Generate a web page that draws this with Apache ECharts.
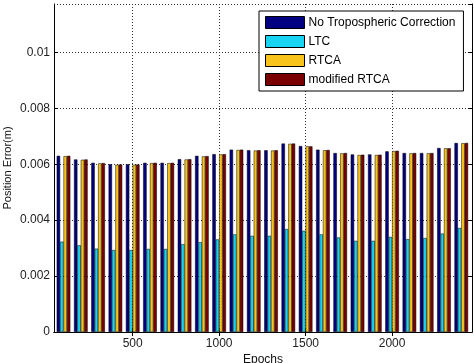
<!DOCTYPE html>
<html>
<head>
<meta charset="utf-8">
<script src="https://cdn.jsdelivr.net/npm/echarts@6/dist/echarts.min.js"></script>
<style>
html,body{margin:0;padding:0;background:#fff;}
#chart{width:474px;height:363px;}
</style>
</head>
<body>
<div id="chart"></div>
<script>
var epochs = [100,200,300,400,500,600,700,800,900,1000,1100,1200,1300,1400,1500,1600,1700,1800,1900,2000,2100,2200,2300,2400];
var xTicks = [500,1000,1500,2000];
var seriesNames = ['No Tropospheric Correction','LTC','RTCA','modified RTCA'];
var noCorrection = [0.00630,0.00617,0.00605,0.00600,0.00600,0.00605,0.00605,0.00618,0.00630,0.00636,0.00652,0.00650,0.00650,0.00674,0.00665,0.00652,0.00640,0.00635,0.00635,0.00646,0.00640,0.00640,0.00658,0.00676];
var ltc = [0.00323,0.00310,0.00298,0.00293,0.00293,0.00297,0.00297,0.00314,0.00321,0.00331,0.00349,0.00344,0.00344,0.00368,0.00362,0.00349,0.00338,0.00326,0.00326,0.00340,0.00332,0.00336,0.00352,0.00372];
var rtca = [0.00629,0.00616,0.00603,0.00598,0.00598,0.00604,0.00604,0.00617,0.00628,0.00635,0.00651,0.00649,0.00649,0.00673,0.00664,0.00650,0.00639,0.00633,0.00633,0.00647,0.00639,0.00639,0.00657,0.00675];
var modifiedRtca = [0.00630,0.00617,0.00604,0.00599,0.00599,0.00605,0.00605,0.00618,0.00629,0.00636,0.00652,0.00650,0.00650,0.00674,0.00664,0.00651,0.00640,0.00634,0.00634,0.00648,0.00640,0.00640,0.00657,0.00676];
var colors = ['#000080','#18d4f2','#f8c41c','#7a0000'];

function pairs(vals){ return epochs.map(function(e,i){ return [e, vals[i]]; }); }
var allVals = [noCorrection, ltc, rtca, modifiedRtca];

var chart = echarts.init(document.getElementById('chart'), null, {renderer:'canvas'});
var font = 'Liberation Sans, Arial, sans-serif';
var gridLine = {show:true, lineStyle:{color:'#333', type:[1,2], width:1}};
var option = {
  animation:false,
  backgroundColor:'#fff',
  textStyle:{fontFamily:font},
  grid:{left:54, right:2, top:4, bottom:31, containLabel:false, outerBoundsMode:'none'},
  legend:{
    orient:'vertical', left:259, top:11, align:'left',
    backgroundColor:'#fff', borderColor:'#000', borderWidth:1,
    padding:[5,8,5,6], itemGap:6, itemWidth:39, itemHeight:12,
    icon:'rect',
    itemStyle:{borderColor:'#000', borderWidth:1},
    textStyle:{fontFamily:font, fontSize:12, color:'#000', lineHeight:12, padding:[0,0,0,-1]},
    data:seriesNames
  },
  xAxis:[{
    type:'value', min:45, max:2462,
    name:'Epochs', nameLocation:'middle', nameGap:22, nameMoveOverlap:false,
    nameTextStyle:{fontFamily:font, fontSize:12, color:'#111'},
    axisLine:{show:true, lineStyle:{color:'#000', width:1}},
    axisTick:{show:true, inside:true, length:4, lineStyle:{color:'#000'}, customValues:xTicks},
    axisLabel:{fontFamily:font, fontSize:12, color:'#222', margin:6, customValues:xTicks,
      formatter:function(v){ return String(v); }},
    splitLine:gridLine
  },{
    type:'value', min:45, max:2462, position:'top',
    axisLine:{show:true, lineStyle:{color:'#000', width:1}},
    axisTick:{show:true, inside:true, length:4, lineStyle:{color:'#000'}, customValues:xTicks},
    axisLabel:{show:false}, splitLine:{show:false}
  }],
  yAxis:[{
    type:'value', min:0, max:0.01173, interval:0.002,
    name:'Position Error(m)', nameLocation:'middle', nameGap:41, nameMoveOverlap:false,
    nameTextStyle:{fontFamily:font, fontSize:11, color:'#111'},
    axisLine:{show:true, lineStyle:{color:'#000', width:1}},
    axisTick:{show:true, inside:true, length:4, lineStyle:{color:'#000'}},
    axisLabel:{fontFamily:font, fontSize:12, color:'#222', margin:4, showMaxLabel:false,
      formatter:function(v){
        var r = Math.round(v / 0.002);
        if (Math.abs(v - r * 0.002) > 1e-7) return '';
        return String(+v.toFixed(4));
      }},
    splitLine:gridLine
  },{
    type:'value', min:0, max:0.01173, interval:0.002, position:'right',
    axisLine:{show:true, lineStyle:{color:'#000', width:1}},
    axisTick:{show:true, inside:true, length:4, lineStyle:{color:'#000'}},
    axisLabel:{show:false}, splitLine:{show:false}
  }],
  series: seriesNames.map(function(n,k){
    return {
      name:n, type:'bar', xAxisIndex:0, yAxisIndex:0,
      barWidth:3.4, barGap:'0%',
      itemStyle:{color:colors[k], borderColor:'#000', borderWidth:0.5},
      data:pairs(allVals[k])
    };
  })
};
chart.setOption(option);
</script>
</body>
</html>
